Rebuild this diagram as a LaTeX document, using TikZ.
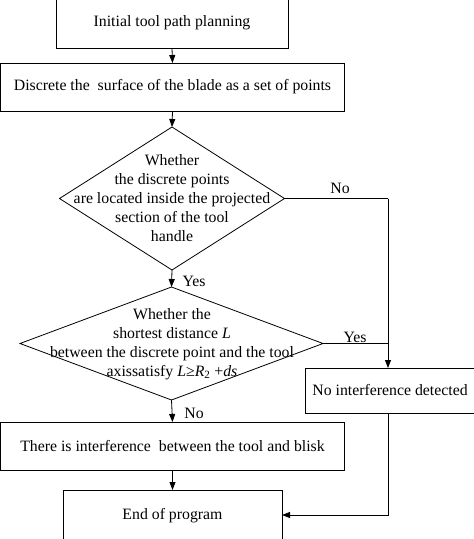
\documentclass[tikz,border=0pt]{standalone}
\usepackage{fontspec}
\setmainfont{Liberation Serif}
\usetikzlibrary{arrows.meta,shapes.geometric}
\begin{document}
\begin{tikzpicture}[x=1pt,y=-1pt,
  every node/.style={font=\fontsize{15.8}{19}\selectfont, inner sep=0pt, outer sep=0pt},
  box/.style={draw, line width=0.8pt, rectangle, align=center},
  dia/.style={draw, line width=0.8pt, diamond},
  lab/.style={align=center},
  con/.style={line width=0.8pt},
  arr/.style={con, -{Triangle[length=8pt,width=6pt]}}]
\useasboundingbox (0,0) rectangle (474,539);
\clip (0,0) rectangle (474,539);
\node[box, minimum width=232pt, minimum height=50pt] (b1) at (172,23) {Initial tool path planning};
\node[box, minimum width=344pt, minimum height=48pt] (b2) at (172.5,87) {Discrete the\ \ surface of the blade as a set of points};
\node[dia, minimum width=225pt, minimum height=143pt] (d1) at (172,198.5) {};
\node[lab] (t1) at (172,198) {Whether\\the discrete points\\are located inside the projected\\section of the tool\\handle};
\node[dia, minimum width=303pt, minimum height=113pt] (d2) at (171.5,343.5) {};
\node[lab] (t2) at (172,344) {Whether the\\shortest distance \textit{L}\\between the discrete point and the tool\\axissatisfy \textit{L}≥\textit{R}\textsubscript{2} +\textit{ds}};
\node[box, minimum width=170pt, minimum height=45pt] (ni) at (390,390.5) {No interference detected};
\node[box, minimum width=344pt, minimum height=48pt] (b3) at (172.5,446) {There is interference\ \ between the tool and blisk};
\node[box, minimum width=219pt, minimum height=52pt] (b4) at (172.5,516) {End of program};
\coordinate (c1) at (388,198.5);
\coordinate (c2) at (388,343.5);
\coordinate (c3) at (388,515);
\node (yes1) at (194,281) {Yes};
\node (no1) at (340,188) {No};
\node (yes2) at (355,337) {Yes};
\node (no2) at (194,413) {No};
\draw[arr] (b1.south) -- (b2.north);
\draw[arr] (b2.south) -- (d1.north);
\draw[arr] (d1.south) -- (d2.north);
\draw[con] (d1.east) -- (c1);
\draw[arr] (c1) -- (c1 |- ni.north);
\draw[con] (d2.east) -- (c2);
\draw[arr] (d2.south) -- (b3.north);
\draw[arr] (b3.south) -- (b4.north);
\draw[arr] (c1 |- ni.south) -- (c3) -- (b4.east |- c3);
\end{tikzpicture}
\end{document}
